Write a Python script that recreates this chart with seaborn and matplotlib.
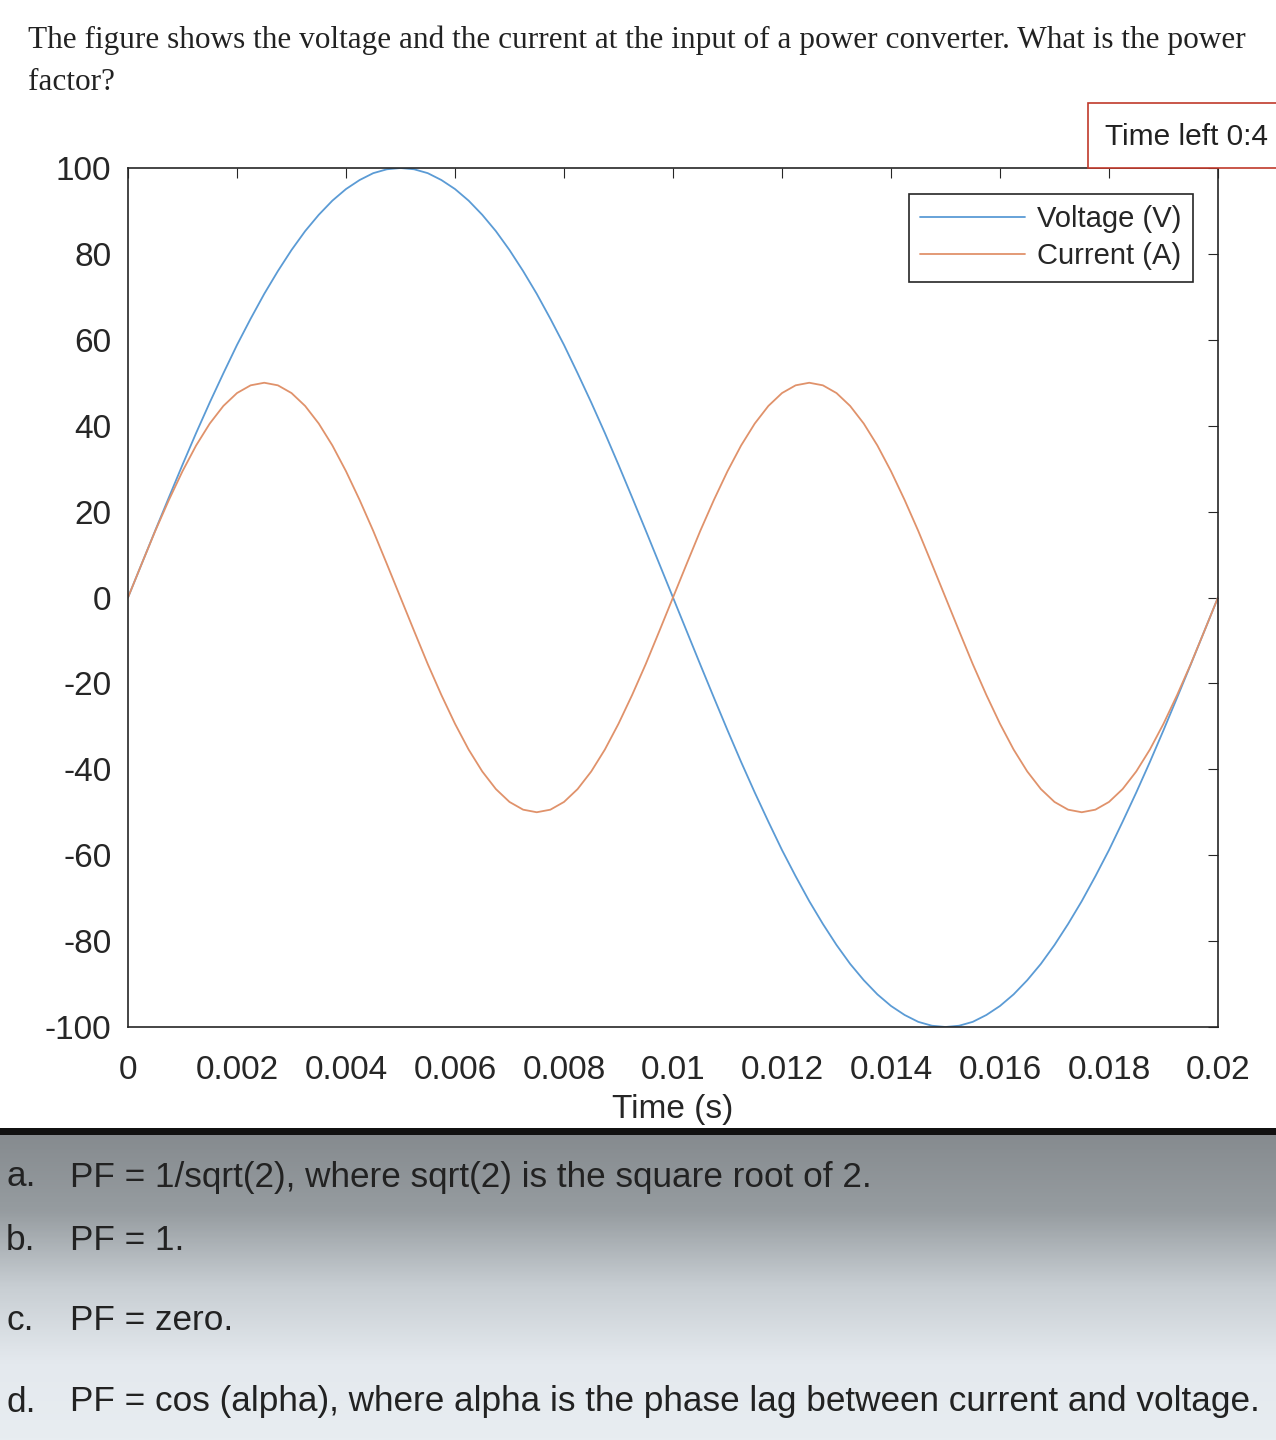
import numpy as np
import matplotlib
matplotlib.use("Agg")
import matplotlib.pyplot as plt
import seaborn as sns
import pandas as pd
from matplotlib.lines import Line2D

time_s = [k * 0.00025 for k in range(81)]
voltage = [0, 7.8, 15.6, 23.3, 30.9, 38.3, 45.4, 52.2, 58.8, 64.9, 70.7, 76.0, 80.9, 85.3, 89.1, 92.4,
           95.1, 97.2, 98.8, 99.7, 100, 99.7, 98.8, 97.2, 95.1, 92.4, 89.1, 85.3, 80.9, 76.0, 70.7, 64.9,
           58.8, 52.2, 45.4, 38.3, 30.9, 23.3, 15.6, 7.8, 0, -7.8, -15.6, -23.3, -30.9, -38.3, -45.4, -52.2,
           -58.8, -64.9, -70.7, -76.0, -80.9, -85.3, -89.1, -92.4, -95.1, -97.2, -98.8, -99.7, -100, -99.7,
           -98.8, -97.2, -95.1, -92.4, -89.1, -85.3, -80.9, -76.0, -70.7, -64.9, -58.8, -52.2, -45.4, -38.3,
           -30.9, -23.3, -15.6, -7.8, 0]
current = [0, 7.8, 15.5, 22.7, 29.4, 35.4, 40.5, 44.6, 47.6, 49.4, 50, 49.4, 47.6, 44.6, 40.5, 35.4,
           29.4, 22.7, 15.5, 7.8, 0, -7.8, -15.5, -22.7, -29.4, -35.4, -40.5, -44.6, -47.6, -49.4, -50,
           -49.4, -47.6, -44.6, -40.5, -35.4, -29.4, -22.7, -15.5, -7.8, 0, 7.8, 15.5, 22.7, 29.4, 35.4,
           40.5, 44.6, 47.6, 49.4, 50, 49.4, 47.6, 44.6, 40.5, 35.4, 29.4, 22.7, 15.5, 7.8, 0, -7.8,
           -15.5, -22.7, -29.4, -35.4, -40.5, -44.6, -47.6, -49.4, -50, -49.4, -47.6, -44.6, -40.5, -35.4,
           -29.4, -22.7, -15.5, -7.8, 0]
xticks = [0, 0.002, 0.004, 0.006, 0.008, 0.01, 0.012, 0.014, 0.016, 0.018, 0.02]
xticklabels = ["0", "0.002", "0.004", "0.006", "0.008", "0.01", "0.012", "0.014", "0.016", "0.018", "0.02"]
yticks = [-100, -80, -60, -40, -20, 0, 20, 40, 60, 80, 100]
yticklabels = ["-100", "-80", "-60", "-40", "-20", "0", "20", "40", "60", "80", "100"]
question_lines = ["The figure shows the voltage and the current at the input of a power converter. What is the power",
                  "factor?"]
answers = [("a.", "PF = 1/sqrt(2), where sqrt(2) is the square root of 2."),
           ("b.", "PF = 1."),
           ("c.", "PF = zero."),
           ("d.", "PF = cos (alpha), where alpha is the phase lag between current and voltage.")]

sns.set_style("white")
plt.rcParams['font.family'] = ['Liberation Sans', 'DejaVu Sans']
plt.rcParams['axes.unicode_minus'] = False
W, H = 1276, 1440
fig = plt.figure(figsize=(W/100, H/100), dpi=100)

ax = fig.add_axes([128/W, 1-1027/H, (1218-128)/W, (1027-168)/H])
df = pd.DataFrame({"t": time_s + time_s, "y": voltage + current,
                   "s": ["Voltage (V)"]*81 + ["Current (A)"]*81})
blue, orange = "#5b9bd5", "#e0926b"
sns.lineplot(data=df, x="t", y="y", hue="s", palette=[blue, orange], ax=ax, linewidth=1.3, legend=False)
ax.set_xlim(0, 0.02); ax.set_ylim(-100, 100)
ax.set_xticks(xticks); ax.set_xticklabels(xticklabels)
ax.set_yticks(yticks); ax.set_yticklabels(yticklabels)
ax.tick_params(direction="in", top=True, right=True, length=7, labelsize=24, colors="#262626")
ax.tick_params(axis="x", pad=20)
ax.tick_params(axis="y", pad=12)
for s in ax.spines.values():
    s.set_color("#262626"); s.set_linewidth(1.2)
ax.set_xlabel("Time (s)", fontsize=24, color="#262626", labelpad=6)
ax.set_ylabel("")
h = [Line2D([], [], color=blue, lw=1.3), Line2D([], [], color=orange, lw=1.3)]
leg = ax.legend(h, ["Voltage (V)", "Current (A)"], loc="upper right", fontsize=21, fancybox=False,
                edgecolor="#262626", framealpha=1, handlelength=3.6, handletextpad=0.4, borderpad=0.4,
                labelspacing=0.3, borderaxespad=0, bbox_to_anchor=(0.977, 0.97))
leg.get_frame().set_linewidth(1.2)

for line, y in zip(question_lines, [40, 82]):
    fig.text(28/W, 1-y/H, line, fontsize=22.5, family=['Liberation Serif'], va="center", color="#222")
fig.patches.append(plt.Rectangle((1088/W, 1-168/H), 0.2, 65/H, transform=fig.transFigure,
                                 facecolor="white", edgecolor="#c0392b", lw=1.2))
fig.text(1105/W, 1-137/H, "Time left 0:4", fontsize=21.5, va="center", color="#222")

bg = fig.add_axes([0, 0, 1, 1-1135/H])
grad = np.linspace(0, 1, 300)[:, None]
cmap = matplotlib.colors.LinearSegmentedColormap.from_list("g", ["#e8edf1", "#e4e9ee", "#c8ced3", "#969ca0", "#868b8f"])
bg.imshow(grad, aspect="auto", cmap=cmap, extent=[0, 1, 0, 1], origin="lower")
bg.axis("off")
fig.patches.append(plt.Rectangle((0, 1-1135/H), 1, 7/H, transform=fig.transFigure, facecolor="#111", lw=0))
for (lab, txt), y in zip(answers, [1177, 1240, 1321, 1402]):
    fig.text(6/W, 1-y/H, lab, fontsize=25.3, va="center", color="#222")
    fig.text(70/W, 1-y/H, txt, fontsize=25.3, va="center", color="#222")

fig.savefig("out.png", dpi=100)
